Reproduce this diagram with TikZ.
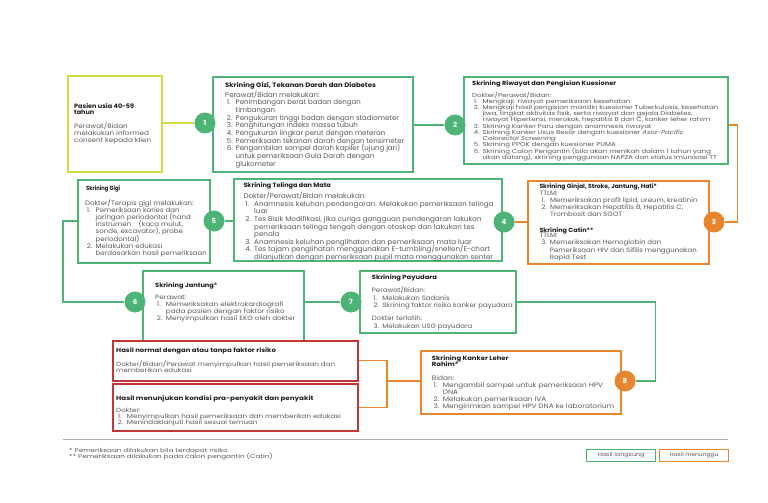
\documentclass[tikz,border=0pt]{standalone}
\usepackage{fontspec}
\usepackage{graphicx}
\setmainfont{Poppins}
\definecolor{gr}{RGB}{78,180,118}
\definecolor{org}{RGB}{232,134,48}
\definecolor{yel}{RGB}{214,220,58}
\definecolor{rd}{RGB}{196,54,54}
\definecolor{txt}{RGB}{90,90,90}
\definecolor{tc}{RGB}{30,30,30}
% #1 target width (pt), #2 font size, #3 line spacing, #4 lines
\newcommand\blk[4]{\resizebox{#1pt}{\height}{\fontsize{#2}{#3}\selectfont\lineskiplimit=-20pt\relax\lineskip=0pt\relax\vtop{#4}}}
\newcommand\plin[1]{\hbox{#1}}
\newcommand\nlin[2]{\hbox{\hskip0.25em\hbox to 1.25em{#1\hfil}#2}}
\newcommand\clin[1]{\hbox{\hskip1.5em #1}}
\newcommand\gapv[1]{\vskip#1pt}
\tikzset{
 bx/.style={draw, line width=1.6pt, anchor=north west, inner sep=0, fill=white},
 gb/.style={bx, draw=gr},
 ob/.style={bx, draw=org},
 yb/.style={bx, draw=yel},
 rb/.style={bx, draw=rd},
 tl/.style={anchor=base west, inner sep=0, text=tc, font=\bfseries},
 bd/.style={anchor=base west, inner sep=0, text=txt},
 circ/.style={circle, minimum size=21pt, inner sep=0, text=white, font=\bfseries\fontsize{7}{7}\selectfont},
 gc/.style={circ, fill=gr},
 oc/.style={circ, fill=org},
 gl/.style={draw=gr, line width=1.3pt},
 ol/.style={draw=org, line width=1.3pt},
 yl/.style={draw=yel, line width=1.3pt},
 leg/.style={anchor=north west, line width=1pt, minimum height=12, inner sep=0, text=txt},
}
\begin{document}
\begin{tikzpicture}[x=1pt,y=-1pt]
\fill[white] (0,0) rectangle (768,503);
\useasboundingbox (0,0) rectangle (768,503);
% boxes
\node[yb, minimum width=94, minimum height=96] (b0) at (67,75) {};
\node[gb, minimum width=200, minimum height=95] (gizi) at (212,76) {};
\node[gb, minimum width=264, minimum height=87] (riw) at (463,76) {};
\node[gb, minimum width=132, minimum height=83] (gigi) at (77,179) {};
\node[gb, minimum width=268, minimum height=82] (tel) at (233,178) {};
\node[ob, minimum width=181, minimum height=83] (gin) at (527,180) {};
\node[gb, minimum width=161, minimum height=72] (jan) at (142,270) {};
\node[gb, minimum width=156, minimum height=62] (pay) at (359,270) {};
\node[rb, minimum width=245, minimum height=40] (r1) at (112,340) {};
\node[rb, minimum width=245, minimum height=47] (r2) at (112,383) {};
\node[ob, minimum width=200, minimum height=63] (leh) at (420,350) {};
% circles
\node[gc] (c1) at (205,123) {1};
\node[gc] (c2) at (455,125) {2};
\node[oc] (c3) at (714,222) {3};
\node[gc] (c4) at (504,222) {4};
\node[gc] (c5) at (214,221) {5};
\node[gc] (c6) at (135,302) {6};
\node[gc] (c7) at (351,302) {7};
\node[oc] (c8) at (625,381) {8};
% connectors
\draw[yl] (b0.east |- c1) -- (c1);
\draw[gl] (gizi.east |- c2) -- (c2);
\draw[ol] (riw.east |- c2) -- ++(9,0) |- (c3);
\draw[ol] (c4) -- (gin.west |- c4);
\draw[gl] (c5) -- (tel.west |- c5);
\draw[gl] (gigi.west |- c5) -- ++(-14,0) |- (c6);
\draw[gl] (jan.east |- c7) -- (c7);
\draw[gl] (pay.east |- c7) -- ++(139,0) |- (c8);
\coordinate (br) at (387,381);
\draw[ol] (leh.west |- br) -- (br);
\draw[ol] (r1.east) -| (br) |- (r2.east);
% --- texts ---
% yellow
\node[tl] (h0) at (74,108) {\blk{60}{6.2}{6.7}{\plin{Pasien usia 40-59}\plin{tahun}}};
\node[bd] (t0) at (74,128.5) {\blk{77}{6.3}{7}{\plin{Perawat/Bidan}\plin{melakukan informed}\plin{consent kepada klien}}};
% gizi
\node[tl] (h1) at (225,87) {\blk{150.7}{6.4}{7}{\plin{Skrining Gizi, Tekanan Darah dan Diabetes}}};
\node[bd] (t1) at (225,97) {\blk{179}{6.9}{7.67}{%
\plin{Perawat/Bidan melakukan:}
\nlin{1.}{Penimbangan berat badan dengan}
\clin{timbangan}
\nlin{2.}{Pengukuran tinggi badan dengan stadiometer}
\nlin{3.}{Penghitungan indeks massa tubuh}
\nlin{4.}{Pengukuran lingkar perut dengan meteran}
\nlin{5.}{Pemeriksaan tekanan darah dengan tensimeter}
\nlin{6.}{Pengambilan sampel darah kapiler (ujung jari)}
\clin{untuk pemeriksaan Gula Darah dengan}
\clin{glukometer}}};
% riwayat
\node[tl] (h2) at (472,85.5) {\blk{144}{6}{7}{\plin{Skrining Riwayat dan Pengisian Kuesioner}}};
\node[bd] (t2) at (472,97) {\blk{246}{5.7}{6.23}{%
\plin{Dokter/Perawat/Bidan:}
\nlin{1.}{Mengkaji\ \ riwayat pemeriksaan kesehatan}
\nlin{2.}{Mengkaji hasil pengisian mandiri kuesioner Tuberkulosis, kesehatan}
\clin{jiwa, tingkat aktivitas fisik, serta riwayat dan gejala Diabetes,}
\clin{riwayat Hipertensi, merokok, hepatitis B dan C, kanker leher rahim}
\nlin{3.}{Skrining Kanker Paru dengan anamnesis riwayat}
\nlin{4.}{Skrining Kanker Usus Besar dengan kuesioner \textit{Asia-Pacific}}
\clin{\textit{Colorectal Screening}}
\nlin{5.}{Skrining PPOK dengan kuesioner PUMA}
\nlin{6.}{Skrining Calon Pengantin (bila akan menikah dalam 1 tahun yang}
\clin{akan datang), skrining penggunaan NAPZA dan status Imunisasi TT}}};
% gigi
\node[tl] (h5) at (86,190.3) {\blk{34}{6}{7}{\plin{Skrining Gigi}}};
\node[bd] (t5) at (85,205.3) {\blk{121.7}{6.4}{7.14}{%
\plin{Dokter/Terapis gigi melakukan:}
\nlin{1.}{Pemeriksaan karies dan}
\clin{jaringan periodontal (hand}
\clin{instrumen\ \ \ \ (kaca mulut,}
\clin{sonde, excavator), probe}
\clin{periodontal)}
\nlin{2.}{Melakukan edukasi}
\clin{berdasarkan hasil pemeriksaan}}};
% telinga
\node[tl] (h4) at (243.3,187) {\blk{87.4}{6.2}{7}{\plin{Skrining Telinga dan Mata}}};
\node[bd] (t4) at (243.3,198.7) {\blk{250}{6.8}{7.58}{%
\plin{Dokter/Perawat/Bidan melakukan:}
\nlin{1.}{Anamnesis keluhan pendengaran. Melakukan pemeriksaan telinga}
\clin{luar}
\nlin{2.}{Tes Bisik Modifikasi, jika curiga gangguan pendengaran lakukan}
\clin{pemeriksaan telinga tengah dengan otoskop dan lakukan tes}
\clin{penala}
\nlin{3.}{Anamnesis keluhan penglihatan dan pemeriksaan mata luar}
\nlin{4.}{Tes tajam penglihatan menggunakan E-tumbling/snellen/E-chart}
\clin{dilanjutkan dengan pemeriksaan pupil mata menggunakan senter}}};
% ginjal
\node[tl] (h3) at (539.3,188) {\blk{117.4}{6}{7}{\plin{Skrining Ginjal, Stroke, Jantung, Hati*}}};
\node[bd] (t3) at (539.3,195.3) {\blk{158}{6.3}{7}{%
\plin{TTLM:}
\nlin{1.}{Memeriksakan profil lipid, ureum, kreatinin}
\nlin{2.}{Memeriksakan Hepatitis B, Hepatitis C,}
\clin{Trombosit dan SGOT}}};
\node[tl] (h3b) at (539.3,232) {\blk{54}{6}{7}{\plin{Skrining Catin**}}};
\node[bd] (t3b) at (539.3,237.7) {\blk{157.4}{6.3}{7.2}{%
\plin{TTLM:}
\nlin{3.}{Memeriksakan Hemoglobin dan}
\clin{Pemeriksaan HIV dan Sifilis menggunakan}
\clin{Rapid Test}}};
% jantung
\node[tl] (h6) at (155,287.7) {\blk{62.3}{6}{7}{\plin{Skrining Jantung*}}};
\node[bd] (t6) at (155,299.7) {\blk{140}{6.2}{6.9}{%
\plin{Perawat:}
\nlin{1.}{Memeriksakan elektrokardiografi}
\clin{pada pasien dengan faktor risiko}
\nlin{2.}{Menyimpulkan hasil EKG oleh dokter}}};
% payudara
\node[tl] (h7) at (371.7,279.7) {\blk{65}{6}{7}{\plin{Skrining Payudara}}};
\node[bd] (t7) at (371.7,292.7) {\blk{141}{6.3}{7.5}{%
\plin{Perawat/Bidan:}
\nlin{1.}{Melakukan Sadanis}
\nlin{2.}{Skrining faktor risiko kanker payudara}
\gapv{5.6}
\plin{Dokter terlatih:}
\nlin{3.}{Melakukan USG payudara}}};
% red boxes
\node[tl] (hr1) at (116,352) {\blk{159.7}{6}{7}{\plin{Hasil normal dengan atau tanpa faktor risiko}}};
\node[bd] (tr1) at (116,366.3) {\blk{219}{6}{6}{%
\plin{Dokter/Bidan/Perawat menyimpulkan hasil pemeriksaan dan}
\plin{memberikan edukasi}}};
\node[tl] (hr2) at (116,400.3) {\blk{197.3}{6}{7}{\plin{Hasil menunjukan kondisi pra-penyakit dan penyakit}}};
\node[bd] (tr2) at (116,412) {\blk{224.7}{6}{6.35}{%
\plin{Dokter:}
\nlin{1.}{Menyimpulkan hasil pemeriksaan dan memberikan edukasi}
\nlin{2.}{Menindaklanjuti hasil sesuai temuan}}};
% leher
\node[tl] (h8) at (431.7,360.3) {\blk{76.7}{6}{6}{\plin{Skrining Kanker Leher}\plin{Rahim*}}};
\node[bd] (t8) at (431.7,380.3) {\blk{182.3}{6.4}{7.1}{%
\plin{Bidan:}
\nlin{1.}{Mengambil sampel untuk pemeriksaan HPV}
\clin{DNA}
\nlin{2.}{Melakukan pemeriksaan IVA}
\nlin{3.}{Mengirimkan sampel HPV DNA ke laboratorium}}};
% footer
\coordinate (fl) at (63,439.5);
\coordinate (fr) at (728,439.5);
\draw[draw=gray!65, line width=1.2pt] (fl) -- (fr);
\node[bd] (fn) at (69,452) {\blk{203.5}{5.5}{6.8}{%
\plin{* Pemeriksaan dilakukan bila terdapat risiko}
\plin{** Pemeriksaan dilakukan pada calon pengantin (Catin)}}};
\node[leg, draw=gr, minimum width=69] (lg1) at (586,449) {\blk{47}{5.2}{6}{\plin{Hasil langsung}}};
\node[leg, draw=org, minimum width=69] (lg2) at (659,449) {\blk{49}{5.2}{6}{\plin{Hasil menunggu}}};
\end{tikzpicture}
\end{document}
